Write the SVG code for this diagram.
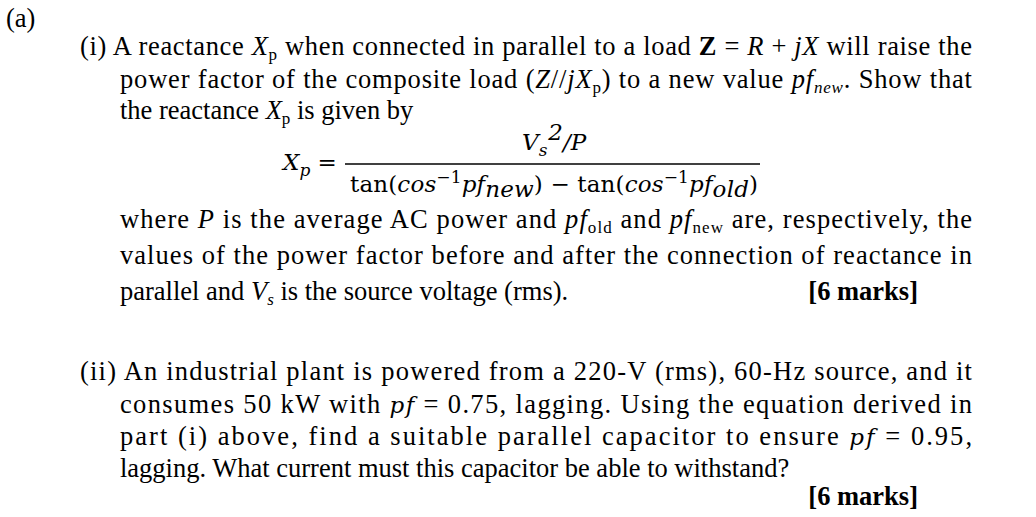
<svg xmlns="http://www.w3.org/2000/svg" width="1036" height="517" viewBox="0 0 1036 517">
<style>
text{font-family:"Liberation Serif","Times New Roman",serif;font-size:26.5px;fill:#000}
.i{font-style:italic}
.b{font-weight:bold}
.s{font-size:17px}
.m{font-family:"DejaVu Serif","Liberation Serif",serif;font-style:italic;font-size:23px}
.mu{font-family:"DejaVu Serif","Liberation Serif",serif;font-size:23px}
</style>
<rect width="1036" height="517" fill="#fff"/>
<g id="text">
<text x="6" y="27">(a)</text>
<text x="80" y="55" textLength="892" lengthAdjust="spacing">(i) A reactance <tspan class="i">X</tspan><tspan class="s" dy="5">p</tspan><tspan dy="-5"> when connected in parallel to a load </tspan><tspan class="b">Z</tspan> = <tspan class="i">R</tspan> + <tspan class="i">jX</tspan> will raise the</text>
<text x="120" y="88" textLength="852" lengthAdjust="spacing">power factor of the composite load (<tspan class="i">Z</tspan>//<tspan class="i">jX</tspan><tspan class="s" dy="5">p</tspan><tspan dy="-5">) to a new value </tspan><tspan class="i">pf</tspan><tspan class="s i" dy="5">new</tspan><tspan dy="-5">. Show that</tspan></text>
<text x="120" y="119">the reactance <tspan class="i">X</tspan><tspan class="s" dy="5">p</tspan><tspan dy="-5"> is given by</tspan></text>
<text x="283" y="170" class="m">X<tspan class="s" dy="6">p</tspan><tspan class="mu" dy="-6"> =</tspan></text>
<text x="522" y="150" class="m">V<tspan class="s" dy="6">s</tspan><tspan class="s mu" dx="1" dy="-16">2</tspan><tspan class="m" dy="10">/P</tspan></text>
<line x1="345" y1="164" x2="760" y2="164" stroke="#000" stroke-width="1.3"/>
<text x="350" y="192" class="mu" textLength="408" lengthAdjust="spacing">tan(<tspan class="m">cos</tspan><tspan class="s" dy="-9">−1</tspan><tspan class="m" dy="9">pf</tspan><tspan class="s m" dy="5">new</tspan><tspan dy="-5">) − tan(</tspan><tspan class="m">cos</tspan><tspan class="s" dy="-9">−1</tspan><tspan class="m" dy="9">pf</tspan><tspan class="s m" dy="5">old</tspan><tspan dy="-5">)</tspan></text>
<text x="120" y="228" textLength="852" lengthAdjust="spacing">where <tspan class="i">P</tspan> is the average AC power and <tspan class="i">pf</tspan><tspan class="s" dy="5">old</tspan><tspan dy="-5"> and </tspan><tspan class="i">pf</tspan><tspan class="s" dy="5">new</tspan><tspan dy="-5"> are, respectively, the</tspan></text>
<text x="120" y="264" textLength="852" lengthAdjust="spacing">values of the power factor before and after the connection of reactance in</text>
<text x="120" y="300">parallel and <tspan class="i">V</tspan><tspan class="s i" dy="5">s</tspan><tspan dy="-5"> is the source voltage (rms).</tspan></text>
<text x="918" y="300" class="b" text-anchor="end">[6 marks]</text>
<text x="80" y="380" textLength="892" lengthAdjust="spacing">(ii) An industrial plant is powered from a 220-V (rms), 60-Hz source, and it</text>
<text x="120" y="413" textLength="852" lengthAdjust="spacing">consumes 50 kW with <tspan class="m">pf</tspan>  =  0.75, lagging. Using the equation derived in</text>
<text x="120" y="445" textLength="852" lengthAdjust="spacing">part (i) above, find a suitable parallel capacitor to ensure <tspan class="m">pf</tspan>  =  0.95,</text>
<text x="120" y="477">lagging. What current must this capacitor be able to withstand?</text>
<text x="918" y="505" class="b" text-anchor="end">[6 marks]</text>
</g>
</svg>
